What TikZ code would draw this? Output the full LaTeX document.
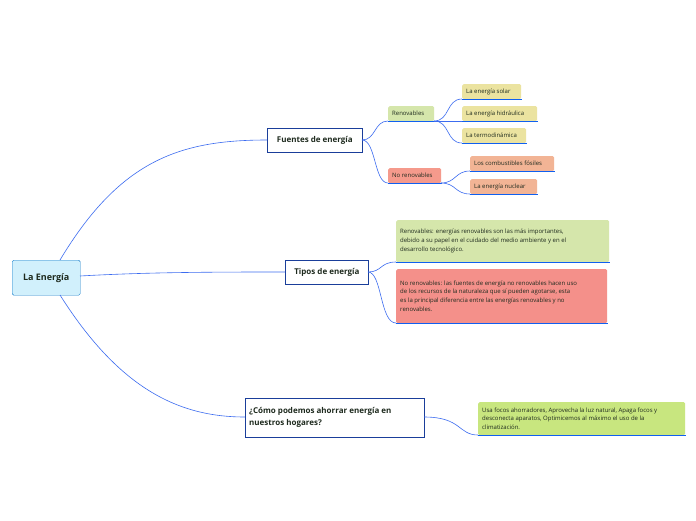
\documentclass[tikz,border=0pt]{standalone}
\usepackage{fontspec}
\setmainfont{Open Sans}
\definecolor{cgreen}{HTML}{D5E6AB}
\definecolor{ckhaki}{HTML}{EBE3A0}
\definecolor{csalmon}{HTML}{F59A8C}
\definecolor{corange}{HTML}{F2B495}
\definecolor{cred}{HTML}{F4908A}
\definecolor{clime}{HTML}{C8E67F}
\definecolor{cul}{HTML}{1060F0}
\definecolor{clink}{HTML}{3C6CF0}
\definecolor{cmain}{HTML}{1A3E9A}
\definecolor{ctext}{HTML}{1E2A1E}
\begin{document}
\begin{tikzpicture}[x=1pt,y=-1pt,
  lnk/.style={draw=clink,line width=0.6pt},
  main/.style={draw=cmain,fill=white,line width=0.7pt,font=\bfseries\fontsize{8}{10}\selectfont,text=ctext,inner sep=0pt,anchor=north west},
  sub/.style={rounded corners=1.5pt,inner sep=0pt,anchor=north west},
  ul/.style={draw=cul,line width=1pt}]
\useasboundingbox (0,0) rectangle (696,520);
\fill[white] (0,0) rectangle (696,520);
\newcommand{\bx}[7]{% name, x1,y1,x2,y2, fill, text
  \node[sub,fill=#6,minimum width=#4-#2,minimum height=#5-#3] (#1) at (#2,#3) {};
  \node[font=\fontsize{6}{8.6}\selectfont,text=ctext,anchor=west,align=left,inner sep=0pt] at (#2+4,{(#3+#5)/2}) {#7};
  \draw[ul] (#2,#5) -- (#4+1,#5);}
% root
\node[draw=cyan!60!blue,fill=cyan!18,rounded corners=1.5pt,minimum width=68,minimum height=35,anchor=north west,font=\bfseries\fontsize{9}{11}\selectfont,text=ctext,inner sep=0pt] (root) at (12,260) {La Energía};
\node[main,minimum width=95,minimum height=24] (f) at (267,128) {Fuentes de energía};
\node[main,minimum width=83,minimum height=24] (t) at (285,260) {Tipos de energía};
\node[main,minimum width=179,minimum height=39,align=left] (c) at (245,398) {};
\node[font=\bfseries\fontsize{8}{12}\selectfont,text=ctext,anchor=west,align=left,inner sep=0pt] at (249,417.5) {¿Cómo podemos ahorrar energía en\\nuestros hogares?};
\draw[lnk] (60,260) .. controls (120,160) and (180,140) .. (267,140);
\draw[lnk] (80,276) .. controls (150,272) and (220,272) .. (285,272);
\draw[lnk] (60,295) .. controls (120,390) and (180,417) .. (245,417);
% level 2
\bx{r}{388}{106}{434}{121}{cgreen}{Renovables}
\bx{n}{388}{168}{441}{183}{csalmon}{No renovables}
\bx{s1}{462}{84}{521}{99}{ckhaki}{La energía solar}
\bx{s2}{462}{106}{537}{121}{ckhaki}{La energía hidráulica}
\bx{s3}{462}{128}{526}{143}{ckhaki}{La termodinámica}
\bx{n1}{470}{156}{554}{171}{corange}{Los combustibles fósiles}
\bx{n2}{470}{179}{537}{194}{corange}{La energía nuclear}
\bx{tr}{396}{220}{609}{262}{cgreen}{Renovables: energías renovables son las más importantes,\\debido a su papel en el cuidado del medio ambiente y en el\\desarrollo tecnológico.}
\bx{tn}{396}{269}{607}{323}{cred}{No renovables: las fuentes de energía no renovables hacen uso\\de los recursos de la naturaleza que sí pueden agotarse, esta\\es la principal diferencia entre las energías renovables y no\\renovables.}
\bx{u}{478}{402}{685}{435}{clime}{Usa focos ahorradores, Aprovecha la luz natural, Apaga focos y\\desconecta aparatos, Optimicemos al máximo el uso de la\\climatización.}
% links
\draw[lnk] (362,140) .. controls (376,140) and (374,121) .. (388,121);
\draw[lnk] (362,140) .. controls (376,140) and (374,183) .. (388,183);
\draw[lnk] (434,121) .. controls (450,121) and (446,99) .. (462,99);
\draw[lnk] (434,121) -- (462,121);
\draw[lnk] (434,121) .. controls (450,121) and (446,143) .. (462,143);
\draw[lnk] (441,183) .. controls (456,183) and (455,171) .. (470,171);
\draw[lnk] (441,183) .. controls (456,183) and (455,194) .. (470,194);
\draw[lnk] (368,272) .. controls (382,272) and (380,262) .. (396,262);
\draw[lnk] (368,272) .. controls (382,272) and (380,323) .. (396,323);
\draw[lnk] (424,417) .. controls (462,417) and (458,435) .. (478,435);
\end{tikzpicture}
\end{document}
